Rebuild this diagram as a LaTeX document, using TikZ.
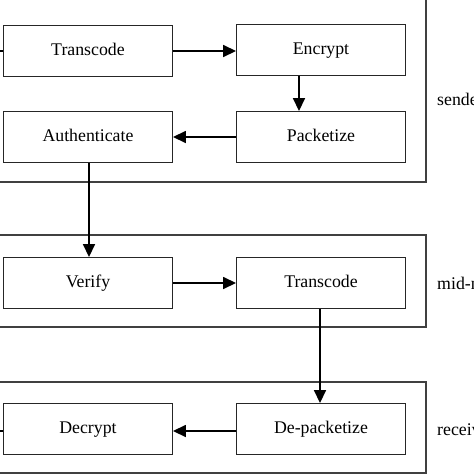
\documentclass[tikz,border=0pt]{standalone}
\usepackage{fontspec}
\setmainfont{Liberation Serif}
\usetikzlibrary{arrows.meta}
\begin{document}
\begin{tikzpicture}[x=1pt,y=-1pt,
  stepbox/.style={draw=black!85,line width=0.9pt,minimum width=169pt,minimum height=51pt,inner sep=0pt,text height=12.5pt,text depth=4pt,font=\fontsize{17.8}{20}\selectfont},
  frame/.style={draw=black!75,line width=1.2pt},
  arr/.style={line width=1.6pt,-{Triangle[length=13pt,width=12pt]}},
  plain/.style={line width=1.6pt},
  lab/.style={anchor=west,inner sep=0pt,font=\fontsize{17.8}{20}\selectfont}]
\useasboundingbox (0,0) rectangle (474,474);
\clip (0,0) rectangle (474,474);
\fill[white] (0,0) rectangle (474,474);
% frames
\draw[frame] (-20,-20) rectangle (426,182);
\draw[frame] (-20,235) rectangle (426,327);
\draw[frame] (-20,382) rectangle (426,473);
% nodes
\node[stepbox] (tc1) at (88,51) {Transcode};
\node[stepbox] (enc) at (321,50) {Encrypt};
\node[stepbox] (pkt) at (321,137) {Packetize};
\node[stepbox] (auth) at (88,137) {Authenticate};
\node[stepbox] (ver) at (88,283) {Verify};
\node[stepbox] (tc2) at (321,283) {Transcode};
\node[stepbox] (dpk) at (321,429) {De-packetize};
\node[stepbox] (dec) at (88,429) {Decrypt};
% free ends
\coordinate (inL) at (-5,51);
\coordinate (outL) at (-5,431);
% connectors
\draw[plain] (inL) -- (tc1.west);
\draw[arr] (tc1.east) -- (enc.west |- tc1.east);
\draw[arr] (enc.south -| 299,0) -- (pkt.north -| 299,0);
\draw[arr] (pkt.west) -- (auth.east);
\draw[arr] (auth.south -| 89,0) -- (ver.north -| 89,0);
\draw[arr] (ver.east) -- (tc2.west);
\draw[arr] (tc2.south -| 320,0) -- (dpk.north -| 320,0);
\draw[arr] (dpk.west |- 0,431) -- (dec.east |- 0,431);
\draw[plain] (dec.west |- 0,431) -- (outL);
% labels
\node[lab] (ls) at (437,99) {sender};
\node[lab] (lm) at (437,283) {mid-node};
\node[lab] (lr) at (437,430) {receiver};
\end{tikzpicture}
\end{document}
